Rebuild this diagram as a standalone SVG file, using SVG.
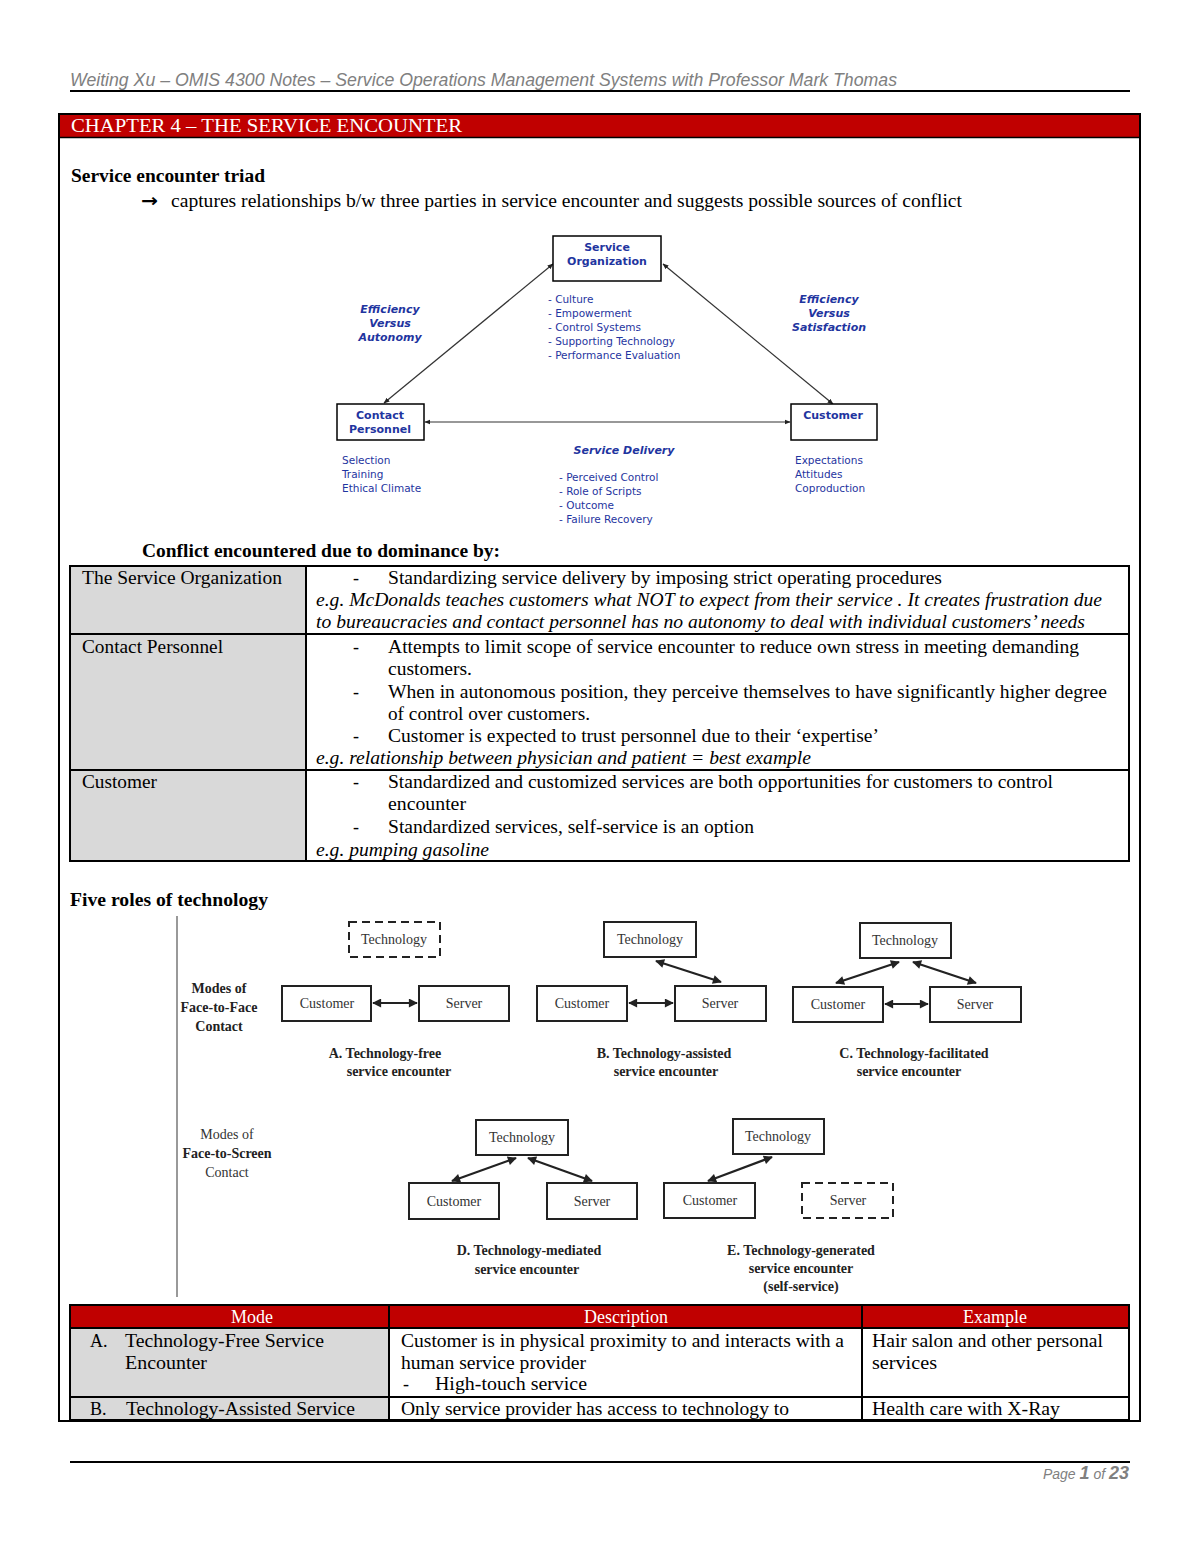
<svg xmlns="http://www.w3.org/2000/svg" width="1200" height="1553" viewBox="0 0 1200 1553">
<defs>
<style>
.hdr{font-family:"Liberation Sans",sans-serif;font-style:italic;fill:#808080;font-size:18px}
.body{font-family:"Liberation Serif",serif;font-size:18px;fill:#000}
.b{font-weight:bold}
.i{font-style:italic}
.wt{fill:#fff}
.tri{font-family:"DejaVu Sans","Liberation Sans",sans-serif;font-size:10.5px;fill:#1f35a0}
.trib{font-family:"DejaVu Sans","Liberation Sans",sans-serif;font-size:11px;fill:#1f35a0;font-weight:bold}
.trii{font-family:"DejaVu Sans","Liberation Sans",sans-serif;font-size:11px;fill:#1f35a0;font-weight:bold;font-style:italic}
.box{fill:#fff;stroke:#000;stroke-width:1.5}
.tbox{fill:#fff;stroke:#222;stroke-width:2}
.dbox{fill:#fff;stroke:#222;stroke-width:2;stroke-dasharray:8,5}
.tt{font-family:"Liberation Serif",serif;font-size:14px;fill:#333;text-anchor:middle}
.cap{font-family:"Liberation Serif",serif;font-size:14px;fill:#222;font-weight:bold;text-anchor:middle}
.tline{stroke:#333;stroke-width:1.2;fill:none;marker-start:url(#sa);marker-end:url(#sa)}
.aline{stroke:#222;stroke-width:2.2;fill:none;marker-start:url(#ta);marker-end:url(#ta)}
.grid{stroke:#000;stroke-width:2;fill:none}
</style>
<marker id="sa" viewBox="0 0 10 10" refX="9" refY="5" markerWidth="6" markerHeight="6" orient="auto-start-reverse" markerUnits="userSpaceOnUse"><path d="M0,1 L10,5 L0,9 z" fill="#222"/></marker>
<marker id="ta" viewBox="0 0 10 10" refX="9" refY="5" markerWidth="11" markerHeight="9" orient="auto-start-reverse" markerUnits="userSpaceOnUse"><path d="M0,0 L10,5 L0,10 z" fill="#222"/></marker>
</defs>
<rect width="1200" height="1553" fill="#fff"/>

<!-- page header -->
<g id="page-header">
<text class="hdr" x="70" y="86" textLength="827" lengthAdjust="spacingAndGlyphs">Weiting Xu – OMIS 4300 Notes – Service Operations Management Systems with Professor Mark Thomas</text>
<line x1="70" y1="91" x2="1130" y2="91" stroke="#000" stroke-width="2"/>
</g>

<!-- outer frame -->
<g id="frame">
<rect x="59" y="114" width="1081" height="1307" fill="none" stroke="#000" stroke-width="2"/>
<rect x="60" y="115" width="1079" height="22" fill="#c00000"/>
<line x1="59" y1="137.5" x2="1140" y2="137.5" stroke="#000" stroke-width="1.5"/>
<text class="body wt" x="71" y="132" textLength="391" lengthAdjust="spacingAndGlyphs">CHAPTER 4 – THE SERVICE ENCOUNTER</text>
</g>

<g id="intro">
<text class="body b" x="71" y="182" textLength="194" lengthAdjust="spacingAndGlyphs">Service encounter triad</text>
<text x="141" y="207" style="font-family:'DejaVu Sans',sans-serif;font-size:18px;font-weight:bold" textLength="17" lengthAdjust="spacingAndGlyphs">→</text>
<text class="body" x="171" y="207" textLength="791" lengthAdjust="spacingAndGlyphs">captures relationships b/w three parties in service encounter and suggests possible sources of conflict</text>
</g>

<!-- triad connectors -->
<g id="triad-connectors">
<line class="tline" x1="384" y1="403" x2="553" y2="264"/>
<line class="tline" x1="663" y1="264" x2="833" y2="404"/>
<line class="tline" x1="425" y1="422" x2="790" y2="422"/>
</g>

<g id="node-service-organization">
<rect class="box" x="553" y="236" width="108" height="45"/>
<text class="trib" x="607" y="251" text-anchor="middle">Service</text>
<text class="trib" x="607" y="265" text-anchor="middle">Organization</text>
</g>
<g id="node-contact-personnel">
<rect class="box" x="337" y="404" width="87" height="36"/>
<text class="trib" x="380" y="419" text-anchor="middle">Contact</text>
<text class="trib" x="380" y="433" text-anchor="middle">Personnel</text>
</g>
<g id="node-customer">
<rect class="box" x="791" y="404" width="86" height="36"/>
<text class="trib" x="833" y="419" text-anchor="middle">Customer</text>
</g>

<g id="triad-labels">
<text class="tri" x="548" y="303">- Culture</text>
<text class="tri" x="548" y="317">- Empowerment</text>
<text class="tri" x="548" y="331">- Control Systems</text>
<text class="tri" x="548" y="345">- Supporting Technology</text>
<text class="tri" x="548" y="359">- Performance Evaluation</text>
<text class="trii" x="390" y="313" text-anchor="middle">Efficiency</text>
<text class="trii" x="390" y="327" text-anchor="middle">Versus</text>
<text class="trii" x="390" y="341" text-anchor="middle">Autonomy</text>
<text class="trii" x="829" y="303" text-anchor="middle">Efficiency</text>
<text class="trii" x="829" y="317" text-anchor="middle">Versus</text>
<text class="trii" x="829" y="331" text-anchor="middle">Satisfaction</text>
<text class="trii" x="624" y="454" text-anchor="middle">Service Delivery</text>
<text class="tri" x="342" y="464">Selection</text>
<text class="tri" x="342" y="478">Training</text>
<text class="tri" x="342" y="492">Ethical Climate</text>
<text class="tri" x="795" y="464">Expectations</text>
<text class="tri" x="795" y="478">Attitudes</text>
<text class="tri" x="795" y="492">Coproduction</text>
<text class="tri" x="559" y="481">- Perceived Control</text>
<text class="tri" x="559" y="495">- Role of Scripts</text>
<text class="tri" x="559" y="509">- Outcome</text>
<text class="tri" x="559" y="523">- Failure Recovery</text>
</g>

<!-- conflict table -->
<g id="conflict-table">
<text class="body b" x="142" y="557" textLength="358" lengthAdjust="spacingAndGlyphs">Conflict encountered due to dominance by:</text>
<rect x="70" y="566" width="236" height="295" fill="#d9d9d9"/>
<rect class="grid" x="70" y="566" width="1059" height="295"/>
<line class="grid" x1="306" y1="566" x2="306" y2="861"/>
<line class="grid" x1="70" y1="634" x2="1129" y2="634"/>
<line class="grid" x1="70" y1="770" x2="1129" y2="770"/>

<text class="body" x="82" y="584" textLength="200" lengthAdjust="spacingAndGlyphs">The Service Organization</text>
<text class="body" x="353" y="584">-</text>
<text class="body" x="388" y="584" textLength="554" lengthAdjust="spacingAndGlyphs">Standardizing service delivery by imposing strict operating procedures</text>
<text class="body i" x="316" y="606" textLength="786" lengthAdjust="spacingAndGlyphs">e.g. McDonalds teaches customers what NOT to expect from their service . It creates frustration due</text>
<text class="body i" x="316" y="628" textLength="769" lengthAdjust="spacingAndGlyphs">to bureaucracies and contact personnel has no autonomy to deal with individual customers’ needs</text>

<text class="body" x="82" y="653" textLength="141" lengthAdjust="spacingAndGlyphs">Contact Personnel</text>
<text class="body" x="353" y="653">-</text>
<text class="body" x="388" y="653" textLength="691" lengthAdjust="spacingAndGlyphs">Attempts to limit scope of service encounter to reduce own stress in meeting demanding</text>
<text class="body" x="388" y="675" textLength="84" lengthAdjust="spacingAndGlyphs">customers.</text>
<text class="body" x="353" y="698">-</text>
<text class="body" x="388" y="698" textLength="719" lengthAdjust="spacingAndGlyphs">When in autonomous position, they perceive themselves to have significantly higher degree</text>
<text class="body" x="388" y="720" textLength="202" lengthAdjust="spacingAndGlyphs">of control over customers.</text>
<text class="body" x="353" y="742">-</text>
<text class="body" x="388" y="742" textLength="491" lengthAdjust="spacingAndGlyphs">Customer is expected to trust personnel due to their ‘expertise’</text>
<text class="body i" x="316" y="764" textLength="495" lengthAdjust="spacingAndGlyphs">e.g. relationship between physician and patient = best example</text>

<text class="body" x="82" y="788" textLength="75" lengthAdjust="spacingAndGlyphs">Customer</text>
<text class="body" x="353" y="788">-</text>
<text class="body" x="388" y="788" textLength="665" lengthAdjust="spacingAndGlyphs">Standardized and customized services are both opportunities for customers to control</text>
<text class="body" x="388" y="810" textLength="78" lengthAdjust="spacingAndGlyphs">encounter</text>
<text class="body" x="353" y="833">-</text>
<text class="body" x="388" y="833" textLength="366" lengthAdjust="spacingAndGlyphs">Standardized services, self-service is an option</text>
<text class="body i" x="316" y="856" textLength="173" lengthAdjust="spacingAndGlyphs">e.g. pumping gasoline</text>
</g>

<!-- five roles -->
<g id="five-roles-title">
<text class="body b" x="70" y="906" textLength="198" lengthAdjust="spacingAndGlyphs">Five roles of technology</text>
<line x1="177" y1="916" x2="177" y2="1297" stroke="#555" stroke-width="1.2"/>
<text class="cap" x="219" y="993">Modes of</text>
<text class="cap" x="219" y="1012">Face-to-Face</text>
<text class="cap" x="219" y="1031">Contact</text>
<text class="tt" x="227" y="1139">Modes of</text>
<text class="cap" x="227" y="1158">Face-to-Screen</text>
<text class="tt" x="227" y="1177">Contact</text>
</g>

<g id="tech-connectors">
<line class="aline" x1="373" y1="1003" x2="417" y2="1003"/>
<line class="aline" x1="629" y1="1003" x2="673" y2="1003"/>
<line class="aline" x1="656" y1="961" x2="721" y2="982"/>
<line class="aline" x1="885" y1="1004" x2="928" y2="1004"/>
<line class="aline" x1="899" y1="962" x2="836" y2="983"/>
<line class="aline" x1="913" y1="962" x2="976" y2="983"/>
<line class="aline" x1="516" y1="1158" x2="452" y2="1181"/>
<line class="aline" x1="528" y1="1158" x2="592" y2="1181"/>
<line class="aline" x1="772" y1="1157" x2="708" y2="1181"/>
</g>

<g id="mode-a">
<rect class="dbox" x="349" y="922" width="91" height="35"/>
<text class="tt" x="394" y="944">Technology</text>
<rect class="tbox" x="282" y="986" width="89" height="35"/>
<text class="tt" x="327" y="1008">Customer</text>
<rect class="tbox" x="419" y="986" width="90" height="35"/>
<text class="tt" x="464" y="1008">Server</text>
<text class="cap" x="385" y="1058">A. Technology-free</text>
<text class="cap" x="399" y="1076">service encounter</text>
</g>
<g id="mode-b">
<rect class="tbox" x="604" y="922" width="92" height="35"/>
<text class="tt" x="650" y="944">Technology</text>
<rect class="tbox" x="537" y="986" width="90" height="35"/>
<text class="tt" x="582" y="1008">Customer</text>
<rect class="tbox" x="675" y="986" width="91" height="35"/>
<text class="tt" x="720" y="1008">Server</text>
<text class="cap" x="664" y="1058">B. Technology-assisted</text>
<text class="cap" x="666" y="1076">service encounter</text>
</g>
<g id="mode-c">
<rect class="tbox" x="860" y="923" width="91" height="35"/>
<text class="tt" x="905" y="945">Technology</text>
<rect class="tbox" x="793" y="987" width="90" height="35"/>
<text class="tt" x="838" y="1009">Customer</text>
<rect class="tbox" x="930" y="987" width="91" height="35"/>
<text class="tt" x="975" y="1009">Server</text>
<text class="cap" x="914" y="1058">C. Technology-facilitated</text>
<text class="cap" x="909" y="1076">service encounter</text>
</g>
<g id="mode-d">
<rect class="tbox" x="476" y="1120" width="92" height="35"/>
<text class="tt" x="522" y="1142">Technology</text>
<rect class="tbox" x="409" y="1183" width="90" height="36"/>
<text class="tt" x="454" y="1206">Customer</text>
<rect class="tbox" x="547" y="1183" width="90" height="36"/>
<text class="tt" x="592" y="1206">Server</text>
<text class="cap" x="529" y="1255">D. Technology-mediated</text>
<text class="cap" x="527" y="1274">service encounter</text>
</g>
<g id="mode-e">
<rect class="tbox" x="733" y="1119" width="91" height="35"/>
<text class="tt" x="778" y="1141">Technology</text>
<rect class="tbox" x="664" y="1183" width="91" height="35"/>
<text class="tt" x="710" y="1205">Customer</text>
<rect class="dbox" x="802" y="1183" width="91" height="35"/>
<text class="tt" x="848" y="1205">Server</text>
<text class="cap" x="801" y="1255">E. Technology-generated</text>
<text class="cap" x="801" y="1273">service encounter</text>
<text class="cap" x="801" y="1291">(self-service)</text>
</g>

<!-- mode table -->
<g id="mode-table">
<rect x="70" y="1305" width="1059" height="23" fill="#c00000"/>
<rect x="70" y="1328" width="319" height="92" fill="#d9d9d9"/>
<rect class="grid" x="70" y="1305" width="1059" height="115"/>
<line class="grid" x1="389" y1="1305" x2="389" y2="1420"/>
<line class="grid" x1="862" y1="1305" x2="862" y2="1420"/>
<line class="grid" x1="70" y1="1328" x2="1129" y2="1328"/>
<line class="grid" x1="70" y1="1397" x2="1129" y2="1397"/>
<text class="body wt" x="252" y="1323" text-anchor="middle">Mode</text>
<text class="body wt" x="626" y="1323" text-anchor="middle">Description</text>
<text class="body wt" x="995" y="1323" text-anchor="middle">Example</text>
<text class="body" x="90" y="1347">A.</text>
<text class="body" x="125" y="1347" textLength="199" lengthAdjust="spacingAndGlyphs">Technology-Free Service</text>
<text class="body" x="125" y="1369" textLength="82" lengthAdjust="spacingAndGlyphs">Encounter</text>
<text class="body" x="401" y="1347" textLength="443" lengthAdjust="spacingAndGlyphs">Customer is in physical proximity to and interacts with a</text>
<text class="body" x="401" y="1369" textLength="185" lengthAdjust="spacingAndGlyphs">human service provider</text>
<text class="body" x="403" y="1390">-</text>
<text class="body" x="435" y="1390" textLength="152" lengthAdjust="spacingAndGlyphs">High-touch service</text>
<text class="body" x="872" y="1347" textLength="231" lengthAdjust="spacingAndGlyphs">Hair salon and other personal</text>
<text class="body" x="872" y="1369" textLength="65" lengthAdjust="spacingAndGlyphs">services</text>
<text class="body" x="90" y="1415">B.</text>
<text class="body" x="126" y="1415" textLength="229" lengthAdjust="spacingAndGlyphs">Technology-Assisted Service</text>
<text class="body" x="401" y="1415" textLength="388" lengthAdjust="spacingAndGlyphs">Only service provider has access to technology to</text>
<text class="body" x="872" y="1415" textLength="188" lengthAdjust="spacingAndGlyphs">Health care with X-Ray</text>
</g>

<!-- footer -->
<g id="page-footer">
<line x1="70" y1="1462" x2="1130" y2="1462" stroke="#000" stroke-width="2"/>
<text class="hdr" x="1129" y="1479" text-anchor="end" style="font-size:14px">Page <tspan style="font-size:18px;font-weight:bold">1</tspan> of <tspan style="font-size:18px;font-weight:bold">23</tspan></text>
</g>
</svg>
